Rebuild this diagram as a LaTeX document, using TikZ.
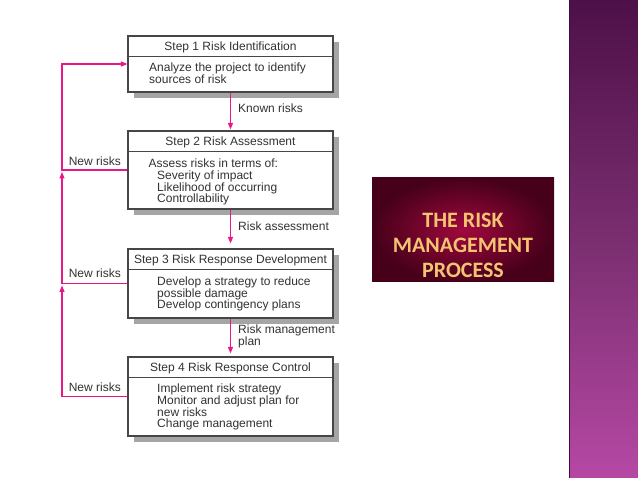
\documentclass[tikz,border=0pt]{standalone}
\usepackage{fontspec}
\setmainfont{Liberation Sans}
\newfontfamily\titlefont{Carlito}
\usetikzlibrary{arrows.meta,shadows,calc}
\definecolor{pk}{RGB}{232,23,138}
\definecolor{ink}{RGB}{50,50,50}
\definecolor{boxline}{RGB}{70,70,70}
\definecolor{shade}{RGB}{165,165,165}
\definecolor{gold}{RGB}{242,195,112}
\definecolor{crim}{RGB}{160,8,62}
\definecolor{darkcrim}{RGB}{70,0,26}
\definecolor{purtop}{RGB}{78,16,72}
\definecolor{purmid}{RGB}{122,46,112}
\definecolor{purbot}{RGB}{182,72,164}
\begin{document}
\begin{tikzpicture}[x=1pt,y=-1pt,
  stepbox/.style={draw=boxline, line width=1.1pt, fill=white, minimum width=205pt, inner sep=0pt,
    general shadow={shadow xshift=6pt, shadow yshift=-6pt, fill=shade}},
  txt/.style={font=\fontsize{12}{11.8}\selectfont, text=ink, inner sep=0pt, align=left},
  head/.style={font=\fontsize{12}{11.8}\selectfont, text=ink, inner sep=0pt, anchor=base},
  sep/.style={draw=boxline, line width=0.9pt},
  flow/.style={draw=pk, line width=1.2pt, -{Triangle[length=6.5pt,width=5pt]}}
]
\useasboundingbox (0,0) rectangle (638,478);
\fill[white] (0,0) rectangle (638,478);

% right purple bar
\shade[top color=purtop, bottom color=purbot, middle color=purmid] (569,0) rectangle (638,478);
\draw[purtop!80!black, line width=1pt] (569.5,0) -- (569.5,478);

% title box
\shade[inner color=crim, outer color=darkcrim] (372,178) rectangle (554,282);
\node[font=\titlefont\bfseries\fontsize{22}{25}\selectfont, text=gold, align=center, inner sep=0pt] (title) at (463,245) {THE RISK\\MANAGEMENT\\PROCESS};

% boxes
\node[stepbox, minimum height=56pt] (b1) at (230.5,64) {};
\node[stepbox, minimum height=78pt] (b2) at (230.5,170) {};
\node[stepbox, minimum height=69pt] (b3) at (230.5,283.5) {};
\node[stepbox, minimum height=79pt] (b4) at (230.5,396.5) {};

% separators
\draw[sep] (b1.west |- 0,56) -- (b1.east |- 0,56);
\draw[sep] (b2.west |- 0,151) -- (b2.east |- 0,151);
\draw[sep] (b3.west |- 0,269) -- (b3.east |- 0,269);
\draw[sep] (b4.west |- 0,377) -- (b4.east |- 0,377);

% headers
\node[head] (h1) at (230.5,50.5) {Step 1 Risk Identification};
\node[head] (h2) at (230.5,145.5) {Step 2 Risk Assessment};
\node[head] (h3) at (230.5,263.5) {Step 3 Risk Response Development};
\node[head] (h4) at (230.5,371.5) {Step 4 Risk Response Control};

% bodies (base anchor = baseline of last line)
\node[txt, anchor=base west] (t1) at (149,83.5) {Analyze the project to identify\\sources of risk};
\node[txt, anchor=base west] (t2) at (148.5,203) {Assess risks in terms of:\\\hspace*{8.5pt}Severity of impact\\\hspace*{8.5pt}Likelihood of occurring\\\hspace*{8.5pt}Controllability};
\node[txt, anchor=base west] (t3) at (157,309) {Develop a strategy to reduce\\possible damage\\Develop contingency plans};
\node[txt, anchor=base west] (t4) at (157,428) {Implement risk strategy\\Monitor and adjust plan for\\new risks\\Change management};

% down connectors
\draw[flow, shorten >=1pt] (b1.south) -- (b2.north);
\draw[flow, shorten >=5pt] (b2.south) -- (b3.north);
\draw[flow, shorten >=3pt] (b3.south) -- (b4.north);

\node[txt, anchor=base west] (l1) at (238,113) {Known risks};
\node[txt, anchor=base west] (l2) at (238,231) {Risk assessment};
\node[txt, anchor=base west] (l3) at (238,345.8) {Risk management\\plan};

% feedback loop
\coordinate (L) at (62,0);
\draw[flow] (b2.west) -- (b2.west -| L) -- (b1.west -| L) -- (b1.west);
\draw[flow, shorten >=2pt] (b3.west) -- (b3.west -| L) -- (b2.west -| L);
\draw[flow, shorten >=2pt] (b4.west) -- (b4.west -| L) -- (b3.west -| L);

\node[txt, anchor=base east] (n2) at (121,166) {New risks};
\node[txt, anchor=base east] (n3) at (121,278) {New risks};
\node[txt, anchor=base east] (n4) at (121,392) {New risks};
\end{tikzpicture}
\end{document}
